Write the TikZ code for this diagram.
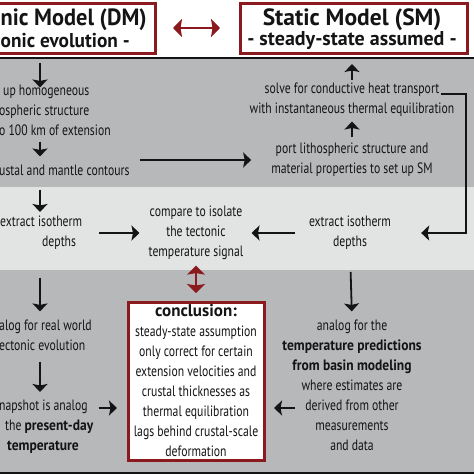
\documentclass[tikz,border=0pt]{standalone}
\usepackage{fontspec}
\usepackage{graphicx}
\setmainfont{PT Sans}
\newfontfamily\bodyfont[FakeStretch=0.78, BoldFeatures={FakeStretch=0.9}]{PT Sans}
\newfontfamily\titlefont{PT Sans}
\usetikzlibrary{arrows.meta,calc}
\definecolor{dred}{HTML}{8B1A1E}
\definecolor{bandgray}{HTML}{B6B8BA}
\definecolor{bandlight}{HTML}{E2E3E3}
\definecolor{ink}{HTML}{141414}
\begin{document}
\begin{tikzpicture}[x=1pt,y=-1pt,
  txt/.style={font=\bodyfont\fontsize{15}{20}\selectfont, inner sep=0pt, align=center, text=ink},
  ltxt/.style={txt, align=left, anchor=west},
  ttl/.style={font=\titlefont\bfseries\fontsize{23.5}{24}\selectfont, inner sep=0pt, text=ink},
  sttl/.style={font=\titlefont\bfseries\fontsize{20}{22}\selectfont, inner sep=0pt, text=ink},
  redbox/.style={draw=dred, line width=3pt, fill=white, inner sep=0pt},
  arr/.style={-{Stealth[width=15pt,length=8pt,inset=1.5pt]}, line width=1.8pt, ink},
  rarr/.style={{Stealth[width=18pt,length=9pt,inset=1.5pt]}-{Stealth[width=18pt,length=9pt,inset=1.5pt]}, line width=2.6pt, dred}
]
\clip (0,0) rectangle (474,474);
% bands
\fill[white] (0,0) rectangle (474,58);
\fill[bandgray] (0,58) rectangle (474,187);
\fill[bandlight] (0,187) rectangle (474,270);
\fill[bandgray] (0,270) rectangle (474,472);
\draw[line width=2pt, ink] (0,58) -- (474,58);
\fill[ink] (0,471.5) rectangle (474,474);
% column guides
\coordinate (colL) at (40,0);
\coordinate (colE) at (466,0);

% title boxes
\node[redbox, minimum width=165pt, minimum height=50pt] (dm) at (72.5,28) {};
\node[ttl, anchor=west] (dmt1) at (0.5,20) {\resizebox{146pt}{\height}{nic Model (DM)}};
\node[sttl, anchor=west] (dmt2) at (0.5,41) {\resizebox{129pt}{\height}{onic evolution -}};
\node[redbox, minimum width=227pt, minimum height=50pt] (sm) at (353.5,28) {};
\node[ttl] (smt1) at (352,19.5) {Static Model (SM)};
\node[sttl] (smt2) at (352,41) {- steady-state assumed -};
\draw[rarr, shorten <=16.5pt, shorten >=18.5pt] (dm.east) -- (sm.west);

% left column
\node[ltxt] (dm1) at (-1,110) {\hspace*{4pt}up homogeneous\\ospheric structure\\o 100 km of extension};
\node[ltxt] (dm2) at (-1,170) {ustal and mantle contours};
\node[ltxt] (dm3) at (0,233) {extract isotherm\\\hspace*{42pt}depths};
\node[ltxt] (dm4) at (-1,335) {alog for real world\\ectonic evolution};
\node[ltxt] (dm5) at (-1,427) {napshot is analog\\\hspace*{6pt}the \textbf{present-day}\\\hspace*{8pt}\textbf{temperature}};

% right column
\node[txt] (solve) at (352,100) {solve for conductive heat transport\\with instantaneous thermal equilibration};
\node[txt] (port) at (352,160) {port lithospheric structure and\\material properties to set up SM};
\node[txt] (exR) at (350,233) {extract isotherm\\depths};
\node[txt] (smA) at (352,385) {analog for the\\\textbf{temperature predictions}\\\textbf{from basin modeling}\\where estimates are\\derived from other\\measurements\\and data};

% centre
\node[txt] (cmp) at (196,233) {compare to isolate\\the tectonic\\temperature signal};
\node[redbox, txt, draw=dred, fill=white, minimum width=136pt, minimum height=158pt] (concl) at (196,381)
  {{\titlefont\bfseries\fontsize{17}{20}\selectfont conclusion:}\\steady-state assumption\\only correct for certain\\extension velocities and\\crustal thicknesses as\\thermal equilibration\\lags behind crustal-scale\\deformation};

% connectors
\draw[arr, shorten <=8.5pt, shorten >=-3pt] (dm.south -| colL) -- (dm1.north -| colL);
\draw[arr, shorten <=6pt, shorten >=8pt] (dm1.south -| colL) -- (dm2.north -| colL);
\draw[arr, shorten <=10pt, shorten >=20pt] (dm2.east |- port.west) -- (port.west);
\draw[arr, shorten <=6pt, shorten >=4.5pt] (port.north) -- (solve.south);
\draw[arr, shorten <=3pt, shorten >=9.5pt] (solve.north) -- (solve.north |- sm.south);
\coordinate (e1) at ([xshift=-13pt,yshift=6pt]solve.east);
\draw[arr, shorten >=30pt] (e1) -- (e1 -| colE) -- (colE |- exR.east) -- (exR.east);
\draw[arr, shorten <=14pt, shorten >=4pt] (dm2.south -| colL) -- (dm3.north -| colL);
\draw[arr, shorten <=17pt, shorten >=9pt] (dm3.east) -- (cmp.west);
\draw[arr, shorten <=13.5pt, shorten >=8pt] (exR.west) -- (cmp.east);
\draw[rarr, shorten <=5.5pt, shorten >=7.5pt] (cmp.south) -- (concl.north);
\draw[arr, shorten <=22pt, shorten >=8pt] (exR.south) -- (smA.north);
\draw[arr, shorten <=27.5pt, shorten >=8pt] (dm3.south -| colL) -- (dm4.north -| colL);
\draw[arr, shorten <=11pt, shorten >=8pt] (dm4.south -| colL) -- (dm5.north -| colL);
\coordinate (h5) at ([yshift=19pt]dm5.east);
\draw[arr, shorten <=5pt, shorten >=9.5pt] (h5) -- (h5 -| concl.west);
\coordinate (h6) at ([xshift=13pt]smA.west |- h5);
\draw[arr, shorten >=8.5pt] (h6) -- (h6 -| concl.east);
\end{tikzpicture}
\end{document}
